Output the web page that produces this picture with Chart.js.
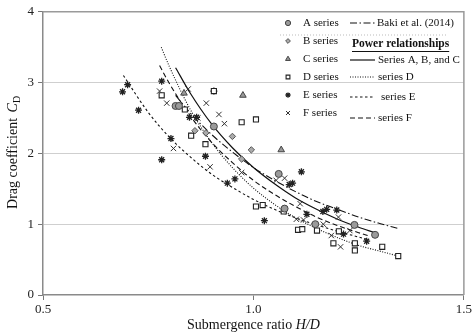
<!DOCTYPE html>
<html>
<head>
<meta charset="utf-8">
<script src="https://cdn.jsdelivr.net/npm/chart.js@4"></script>
<style>
  body { margin: 0; background: #fff; }
  canvas { display: block; }
</style>
</head>
<body>
<canvas id="myChart" width="474" height="335"></canvas>
<script>
// Measured points, H/D and C_D for each test series
const aHD = [0.815, 0.823, 0.906, 1.060, 1.074, 1.147, 1.240, 1.289];
const aCD = [2.67, 2.67, 2.38, 1.71, 1.22, 1.00, 0.99, 0.85];
const bHD = [0.861, 0.887, 0.950, 0.972, 0.995];
const bCD = [2.32, 2.29, 2.24, 1.92, 2.05];
const cHD = [0.835, 0.975, 1.066];
const cCD = [2.85, 2.82, 2.05];
const dHD = [0.782, 0.837, 0.852, 0.886, 0.906, 0.972, 1.006, 1.006, 1.022, 1.072, 1.106, 1.116, 1.151, 1.190, 1.203, 1.241, 1.241, 1.306, 1.344];
const dCD = [2.82, 2.62, 2.25, 2.13, 2.88, 2.44, 2.48, 1.25, 1.27, 1.18, 0.92, 0.93, 0.91, 0.73, 0.90, 0.73, 0.63, 0.68, 0.55];
const eHD = [0.689, 0.701, 0.727, 0.782, 0.804, 0.782, 0.848, 0.865, 0.886, 0.906, 0.938, 0.956, 1.026, 1.085, 1.093, 1.114, 1.127, 1.165, 1.174, 1.198, 1.214, 1.269];
const eCD = [2.87, 2.97, 2.61, 3.02, 2.21, 1.91, 2.51, 2.51, 1.96, 2.88, 1.58, 1.64, 1.05, 1.56, 1.58, 1.74, 1.14, 1.18, 1.21, 1.20, 0.86, 0.76];
const fHD = [0.777, 0.794, 0.810, 0.845, 0.868, 0.888, 0.897, 0.918, 0.931, 0.972, 1.054, 1.074, 1.111, 1.102, 1.119, 1.166, 1.185, 1.202, 1.207, 1.229];
const fCD = [2.88, 2.71, 2.07, 2.91, 2.50, 2.71, 1.81, 2.55, 2.42, 1.73, 1.62, 1.65, 1.29, 1.07, 1.06, 1.00, 0.84, 1.10, 0.68, 0.91];

// Fitted curves
const bakiHD = [0.815, 0.85, 0.90, 0.95, 1.00, 1.05, 1.10, 1.15, 1.20, 1.25, 1.30, 1.343];
const bakiCD = [2.82, 2.57, 2.27, 2.02, 1.80, 1.62, 1.46, 1.32, 1.21, 1.10, 1.01, 0.94];
const fitAbcHD = [0.815, 0.85, 0.90, 0.95, 1.00, 1.05, 1.10, 1.15, 1.20, 1.25, 1.288];
const fitAbcCD = [3.21, 2.85, 2.42, 2.08, 1.80, 1.57, 1.37, 1.21, 1.07, 0.957, 0.88];
const fitDHD = [0.781, 0.80, 0.85, 0.90, 0.95, 1.00, 1.05, 1.10, 1.15, 1.20, 1.25, 1.30, 1.344];
const fitDCD = [3.50, 3.23, 2.62, 2.16, 1.80, 1.51, 1.28, 1.09, 0.94, 0.81, 0.70, 0.62, 0.55];
const fitEHD = [0.691, 0.75, 0.80, 0.85, 0.90, 0.95, 1.00, 1.05, 1.10, 1.15, 1.20, 1.268];
const fitECD = [3.10, 2.58, 2.23, 1.95, 1.71, 1.52, 1.35, 1.21, 1.09, 0.99, 0.90, 0.79];
const fitFHD = [0.777, 0.80, 0.85, 0.90, 0.95, 1.00, 1.05, 1.10, 1.15, 1.20, 1.25, 1.276];
const fitFCD = [3.24, 2.99, 2.53, 2.16, 1.87, 1.62, 1.42, 1.25, 1.10, 0.98, 0.88, 0.83];

const xTicks = [0.5, 1.0, 1.5];
const yTicks = [0, 1, 2, 3, 4];

const serif = '"Liberation Serif", "DejaVu Serif", serif';

function pts(xs, ys) {
  return xs.map((x, i) => ({ x: x, y: ys[i] }));
}

function markers(label, xs, ys, style, radius, fill, stroke, bw) {
  return {
    type: 'scatter', label: label, data: pts(xs, ys),
    pointStyle: style, pointRadius: radius, pointHoverRadius: radius,
    backgroundColor: fill, borderColor: stroke, borderWidth: bw, order: 1
  };
}

function curve(label, xs, ys, dash, width) {
  return {
    type: 'line', label: label, data: pts(xs, ys),
    borderColor: '#111', borderWidth: width, borderDash: dash,
    pointRadius: 0, fill: false, cubicInterpolationMode: 'monotone', order: 2
  };
}

const datasets = [
  markers('A series', aHD, aCD, 'circle', 3.5, '#9a9a9a', '#444', 1),
  markers('B series', bHD, bCD, 'rectRot', 3.2, '#aaaaaa', '#555', 1),
  markers('C series', cHD, cCD, 'triangle', 3.8, '#999999', '#444', 1),
  markers('D series', dHD, dCD, 'rect', 3.6, '#ffffff', '#222', 1.1),
  markers('E series', eHD, eCD, 'star', 3.5, '#222', '#222', 1.3),
  markers('F series', fHD, fCD, 'crossRot', 3.8, '#333', '#333', 1),
  curve('Baki et al. (2014)', bakiHD, bakiCD, [7, 2.5, 1.5, 2.5], 1.1),
  curve('Series A, B, and C', fitAbcHD, fitAbcCD, [], 1.2),
  curve('series D', fitDHD, fitDCD, [1, 1.5], 1.1),
  curve('series E', fitEHD, fitECD, [2.5, 2.5], 1.1),
  curve('series F', fitFHD, fitFCD, [5, 3], 1.1)
];

// Hand-drawn legend, frame and axis titles
const decorations = {
  id: 'decorations',
  afterDraw(chart) {
    const ctx = chart.ctx;
    const area = chart.chartArea;
    ctx.save();

    // top and right frame
    ctx.strokeStyle = '#9a9a9a';
    ctx.lineWidth = 1.5;
    ctx.beginPath();
    ctx.moveTo(area.left, area.top);
    ctx.lineTo(area.right, area.top);
    ctx.lineTo(area.right, area.bottom);
    ctx.stroke();

    // marker column
    const rows = [23, 41, 59, 77, 95, 113];
    ctx.font = '11px ' + serif;
    ctx.textBaseline = 'middle';
    for (let i = 0; i < 6; i++) {
      const ds = chart.data.datasets[i];
      ctx.fillStyle = ds.backgroundColor;
      ctx.strokeStyle = ds.borderColor;
      ctx.lineWidth = ds.borderWidth;
      Chart.helpers.drawPoint(ctx, {
        pointStyle: ds.pointStyle, radius: ds.pointRadius * 0.75,
        rotation: 0, borderWidth: ds.borderWidth
      }, 288, rows[i]);
      ctx.fillStyle = '#111';
      ctx.textAlign = 'left';
      ctx.fillText(ds.label, 303, rows[i]);
    }

    // line column
    const lineRows = [[6, 23, 377], [7, 60, 378], [8, 77, 378], [9, 97, 381], [10, 118, 378]];
    lineRows.forEach(([idx, y, tx]) => {
      const ds = chart.data.datasets[idx];
      ctx.strokeStyle = '#111';
      ctx.lineWidth = ds.borderWidth;
      ctx.setLineDash(ds.borderDash);
      ctx.beginPath();
      ctx.moveTo(350, y);
      ctx.lineTo(375, y);
      ctx.stroke();
      ctx.setLineDash([]);
      ctx.fillStyle = '#111';
      ctx.fillText(ds.label, tx, y);
    });

    // dotted separator
    ctx.strokeStyle = '#bbb';
    ctx.lineWidth = 1;
    ctx.setLineDash([1, 2]);
    ctx.beginPath();
    ctx.moveTo(280, 35);
    ctx.lineTo(446, 35);
    ctx.stroke();
    ctx.setLineDash([]);

    // header
    ctx.font = 'bold 11.5px ' + serif;
    ctx.fillStyle = '#111';
    const head = 'Power relationships';
    ctx.fillText(head, 352, 44);
    const hw = ctx.measureText(head).width;
    ctx.fillRect(352, 51, hw, 1);

    // x title
    ctx.font = '14px ' + serif;
    const xa = 'Submergence ratio ';
    const wa = ctx.measureText(xa).width;
    ctx.font = 'italic 14px ' + serif;
    const wb = ctx.measureText('H/D').width;
    let sx = (area.left + area.right) / 2 - (wa + wb) / 2;
    ctx.font = '14px ' + serif;
    ctx.fillText(xa, sx, 325);
    ctx.font = 'italic 14px ' + serif;
    ctx.fillText('H/D', sx + wa, 325);

    // y title
    ctx.translate(13, (area.top + area.bottom) / 2);
    ctx.rotate(-Math.PI / 2);
    ctx.font = '14px ' + serif;
    const ya = 'Drag coefficient ';
    const w1 = ctx.measureText(ya).width;
    ctx.font = 'italic 14px ' + serif;
    const w2 = ctx.measureText('C').width;
    ctx.font = '10px ' + serif;
    const w3 = ctx.measureText('D').width;
    let sy = -(w1 + w2 + w3) / 2;
    ctx.font = '14px ' + serif;
    ctx.fillText(ya, sy, 0);
    ctx.font = 'italic 14px ' + serif;
    ctx.fillText('C', sy + w1 + 2, 0);
    ctx.font = '10px ' + serif;
    ctx.fillText('D', sy + w1 + w2 + 2, 4);

    ctx.restore();
  }
};

const chartConfig = {
  data: { datasets: datasets },
  options: {
    responsive: false,
    animation: false,
    layout: { padding: { top: 6, right: 8, left: 0, bottom: 0 } },
    plugins: {
      legend: { display: false },
      tooltip: { enabled: false }
    },
    scales: {
      x: {
        type: 'linear',
        min: 0.5, max: 1.5,
        afterBuildTicks: (scale) => { scale.ticks = xTicks.map(v => ({ value: v })); },
        afterFit: (scale) => { scale.height = 40; },
        ticks: {
          font: { family: serif, size: 13 }, color: '#222', padding: 2,
          callback: (v) => v.toFixed(1)
        },
        grid: { drawOnChartArea: false, drawTicks: true, tickLength: 5, tickColor: '#777' },
        border: { color: '#8a8a8a', width: 1.5 }
      },
      y: {
        type: 'linear',
        min: 0, max: 4,
        afterBuildTicks: (scale) => { scale.ticks = yTicks.map(v => ({ value: v })); },
        afterFit: (scale) => { scale.width = 43; },
        ticks: {
          font: { family: serif, size: 13 }, color: '#222', padding: 4
        },
        grid: {
          color: (c) => (c.tick && (c.tick.value === 0 || c.tick.value === 4)) ? 'rgba(0,0,0,0)' : '#cfcfcf',
          borderDash: [1, 2],
          drawTicks: true, tickLength: 5, tickColor: '#777', tickBorderDash: []
        },
        border: { color: '#8a8a8a', width: 1.5 }
      }
    }
  },
  plugins: [decorations]
};

const ctx = document.getElementById('myChart').getContext('2d');
const myChart = new Chart(ctx, chartConfig);
</script>
</body>
</html>
